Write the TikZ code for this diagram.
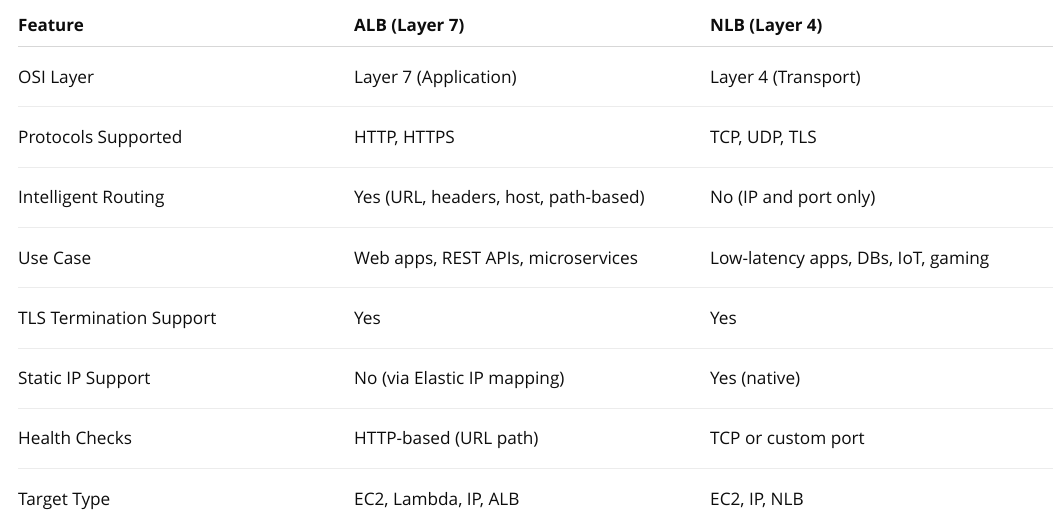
\documentclass[tikz,border=0pt]{standalone}
\usepackage{fontspec}
\setmainfont{Open Sans}
\usetikzlibrary{positioning}
\definecolor{textgray}{RGB}{13,13,13}
\definecolor{rulegray}{RGB}{236,236,236}
\definecolor{headrule}{RGB}{215,215,215}
\tikzset{
  cell/.style={anchor=base west, inner sep=0pt, text=textgray, font=\fontsize{17.2}{20}\selectfont},
  head/.style={cell, font=\fontsize{17}{20}\selectfont\bfseries},
  rowline/.style={draw=rulegray, line width=1pt}
}
\begin{document}
\begin{tikzpicture}[x=1pt,y=-1pt]
\useasboundingbox (0,0) rectangle (1053,522);
% header row
\node[head] (hfeat) at (18,31) {Feature};
\node[head] (halb) at (354,31) {ALB (Layer 7)};
\node[head] (hnlb) at (710,31) {NLB (Layer 4)};
\coordinate (l0a) at (18,46);
\coordinate (l0b) at (1053,46);
\draw[draw=headrule, line width=1pt] (l0a) -- (l0b);
% body rows
\foreach \i/\f/\a/\n in {
  1/OSI Layer/Layer 7 (Application)/Layer 4 (Transport),
  2/Protocols Supported/{HTTP, HTTPS}/{TCP, UDP, TLS},
  3/Intelligent Routing/{Yes (URL, headers, host, path-based)}/No (IP and port only),
  4/Use Case/{Web apps, REST APIs, microservices}/{Low-latency apps, DBs, IoT, gaming},
  5/TLS Termination Support/Yes/Yes,
  6/Static IP Support/No (via Elastic IP mapping)/Yes (native),
  7/Health Checks/HTTP-based (URL path)/TCP or custom port,
  8/Target Type/{EC2, Lambda, IP, ALB}/{EC2, IP, NLB}}{
  \pgfmathsetmacro{\yy}{22.8+60.3*\i}
  \node[cell] (feat\i) at (18,\yy) {\f};
  \node[cell] (alb\i) at (354,\yy) {\a};
  \node[cell] (nlb\i) at (710,\yy) {\n};
  \ifnum\i<8
    \pgfmathsetmacro{\ly}{46.5+60.3*\i}
    \coordinate (l\i a) at (18,\ly);
    \coordinate (l\i b) at (1053,\ly);
    \draw[rowline] (l\i a) -- (l\i b);
  \fi
}
\end{tikzpicture}
\end{document}
